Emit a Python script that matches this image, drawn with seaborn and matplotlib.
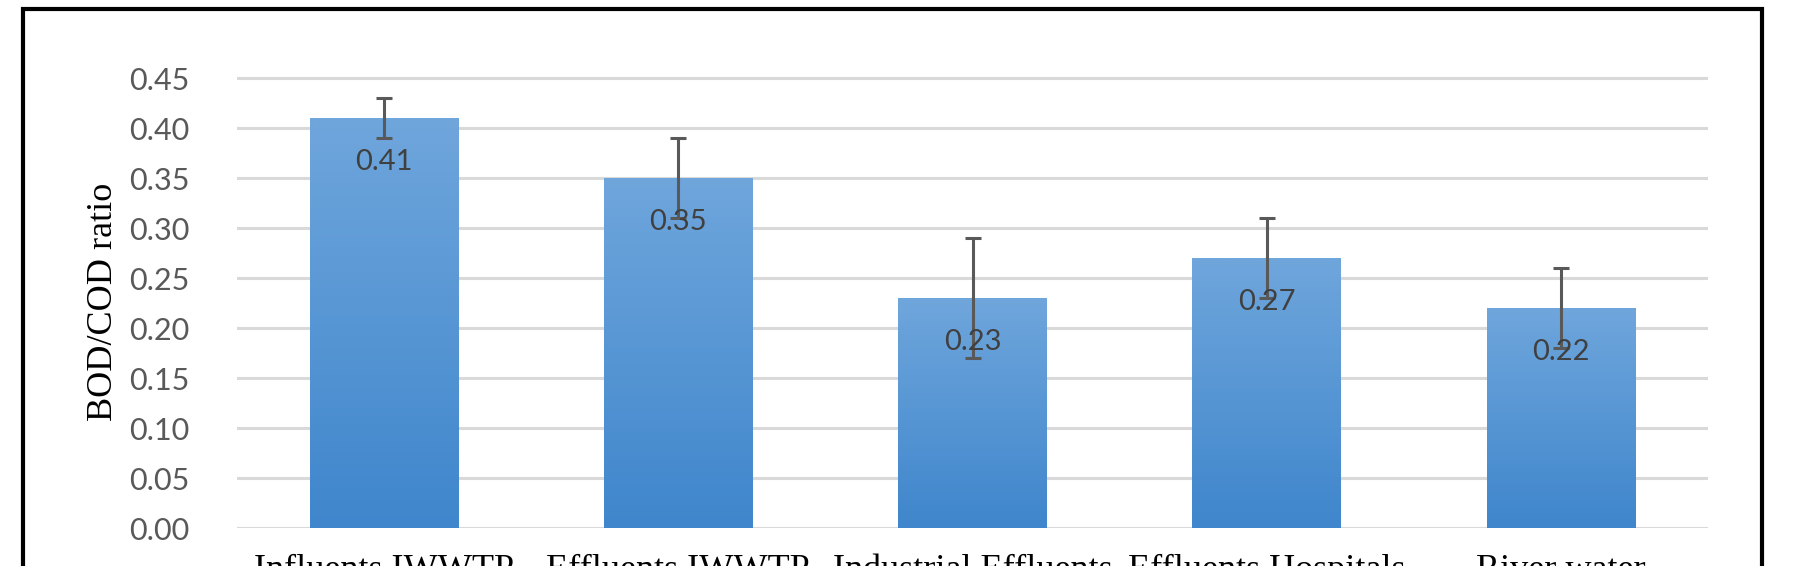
import numpy as np
import pandas as pd
import matplotlib
matplotlib.use('Agg')
import matplotlib.pyplot as plt
from matplotlib.colors import LinearSegmentedColormap
from matplotlib.patches import Rectangle
import seaborn as sns

# Data
sites = ['Influents IWWTP', 'Effluents IWWTP', 'Industrial Effluents',
         'Effluents Hospitals', 'River water']
ratio = [0.41, 0.35, 0.23, 0.27, 0.22]
ratio_err = [0.02, 0.04, 0.06, 0.04, 0.04]
y_ticks = [0.00, 0.05, 0.10, 0.15, 0.20, 0.25, 0.30, 0.35, 0.40, 0.45]

df = pd.DataFrame({'site': sites, 'ratio': ratio, 'err': ratio_err})

sns.set_style('white')
plt.rcParams['font.family'] = ['Lato', 'DejaVu Sans']

fig = plt.figure(figsize=(18.02, 5.66), dpi=100)
ax = fig.add_axes([237 / 1802, 38 / 566, 1471 / 1802, 452 / 566])

sns.barplot(data=df, x='site', y='ratio', color='#5b9bd5', width=0.505,
            errorbar=None, ax=ax, zorder=2)

# vertical gradient on each bar, like the Excel fill
grad = LinearSegmentedColormap.from_list('bar', ['#3f86cc', '#6fa6dc'])
for bar in ax.patches:
    x0, y0 = bar.get_x(), bar.get_y()
    w, h = bar.get_width(), bar.get_height()
    img = ax.imshow(np.linspace(0, 1, 256).reshape(-1, 1), cmap=grad,
                    origin='lower', aspect='auto',
                    extent=[x0, x0 + w, y0, y0 + h], zorder=2)
    img.set_clip_path(bar)
    bar.set_facecolor('none')
    bar.set_edgecolor('none')

xpos = np.arange(len(sites))
ax.errorbar(xpos, df['ratio'], yerr=df['err'], fmt='none', ecolor='#595959',
            elinewidth=2.2, capsize=6, capthick=2.2, zorder=4)

for x, v in zip(xpos, ratio):
    ax.annotate(f'{v:.2f}', (x, v), xytext=(0, -32), textcoords='offset points',
                ha='center', va='center', fontsize=21, color='#404040', zorder=5)

ax.set_xlim(-0.5, len(sites) - 0.5)
ax.set_ylim(0, 0.452)
ax.set_yticks(y_ticks)
ax.set_yticklabels([f'{t:.2f}' for t in y_ticks])
ax.yaxis.grid(True, color='#d9d9d9', linewidth=2.2, zorder=0)
ax.set_axisbelow(True)
for s in ax.spines.values():
    s.set_visible(False)

ax.tick_params(axis='y', length=0, pad=34, labelsize=22, labelcolor='#595959')
ax.tick_params(axis='x', length=0, pad=19, labelsize=26, labelcolor='#000000')
for lab in ax.get_xticklabels():
    lab.set_fontfamily(['Liberation Serif', 'DejaVu Serif'])
for lab in ax.get_yticklabels():
    lab.set_horizontalalignment('right')
ax.set_xlabel('')
ax.set_ylabel('')

fig.text(104 / 1802, 1 - 302 / 566, 'BOD/COD ratio', rotation=90,
         ha='center', va='center', fontsize=26,
         family=['Liberation Serif', 'DejaVu Serif'], color='#000000')

# black frame round the chart, bottom edge falls outside the crop
fig.patches.append(Rectangle((23 / 1802, -0.2), (1762 - 23) / 1802, 1.2 - 9 / 566,
                             transform=fig.transFigure, fill=False,
                             edgecolor='black', linewidth=3, zorder=10))

fig.savefig('out.png', dpi=100)
